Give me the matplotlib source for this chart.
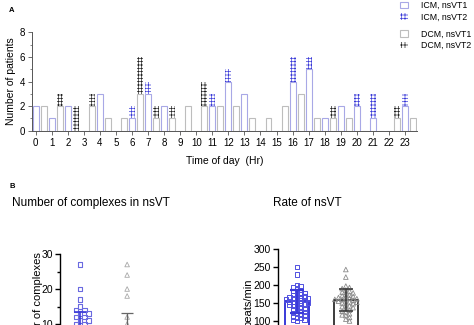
import numpy as np
import matplotlib.pyplot as plt
from matplotlib.patches import Patch

plt.rcParams['font.family'] = ['Liberation Sans', 'DejaVu Sans']
plt.rcParams['hatch.linewidth'] = 0.5

# Panel A: patients per hour (stacked nsVT1 + nsVT2)
hours = list(range(24))
icm_vt1 = [2, 1, 2, 0, 3, 0, 1, 3, 2, 0, 0, 2, 4, 3, 0, 0, 4, 5, 1, 2, 2, 1, 0, 2]
icm_vt2 = [0, 0, 0, 0, 0, 0, 1, 1, 0, 0, 0, 1, 1, 0, 0, 0, 2, 1, 0, 0, 1, 2, 0, 1]
dcm_vt1 = [2, 2, 0, 2, 1, 1, 3, 1, 1, 2, 2, 2, 2, 1, 1, 2, 3, 1, 1, 1, 0, 0, 1, 1]
dcm_vt2 = [0, 1, 2, 1, 0, 0, 3, 1, 1, 0, 2, 0, 0, 0, 0, 0, 0, 0, 1, 0, 0, 0, 1, 0]

# Panel B: number of complexes
groups = ['ICM', 'DCM']
cplx_icm = [27, 20, 17, 15, 14, 14, 13, 13, 12, 12, 11, 11, 10, 10, 9, 9, 8, 8, 7, 7, 6, 6, 5, 5]
cplx_dcm = [27, 24, 20, 18, 12, 10, 9, 8, 7, 6, 6, 5, 5, 4]
cplx_mean = [9.0, 8.5]
cplx_sd = [4.5, 4.6]

# Panel B: rate of nsVT
rate_icm = [250, 230, 200, 197, 193, 190, 186, 183, 180, 178, 175, 172, 170, 168, 166, 165,
            163, 162, 160, 160, 158, 157, 155, 153, 152, 150, 148, 146, 145, 142, 140, 138,
            135, 132, 130, 128, 125, 122, 120, 118, 115, 112, 110, 108, 105, 103, 100]
rate_dcm = [243, 222, 197, 193, 190, 186, 183, 180, 178, 175, 172, 170, 168, 166, 165, 163,
            162, 160, 160, 158, 156, 155, 153, 152, 150, 148, 145, 142, 140, 137, 135, 130,
            127, 125, 120, 117, 115, 110, 105, 100]
rate_mean = [155, 158]
rate_sd = [32, 30]

BLUE = '#3a3ad8'
BLUE_LIGHT = '#a8a8e6'
GRAY_LIGHT = '#bdbdbd'
DARK = '#3c3c3c'


def swarm(vals, dy, dx):
    # simple deterministic beeswarm offsets
    placed = []
    offs = []
    for v in vals:
        k = 0
        while True:
            cands = [0.0] if k == 0 else [k * dx, -k * dx]
            ok = None
            for c in cands:
                if all(abs(c - px) >= dx * 0.9 or abs(v - pv) >= dy for px, pv in placed):
                    ok = c
                    break
            if ok is not None:
                break
            k += 1
        placed.append((ok, v))
        offs.append(ok)
    return np.array(offs)


fig = plt.figure(figsize=(4.74, 3.25), dpi=100)
W, H = 474.0, 325.0


def box(x0, y0, x1, y1):
    return [x0 / W, 1 - y1 / H, (x1 - x0) / W, (y1 - y0) / H]


# ---------------- Panel A ----------------
ax = fig.add_axes(box(31.7, 32.3, 417, 130.7))
x = np.array(hours, dtype=float)
bw = 0.37
ax.bar(x, icm_vt1, bw, color='white', edgecolor=BLUE_LIGHT, linewidth=0.8)
ax.bar(x, icm_vt2, bw, bottom=icm_vt1, color='white', edgecolor=BLUE, hatch='+++++',
       linewidth=0.0)
ax.bar(x + 0.5, dcm_vt1, bw, color='white', edgecolor=GRAY_LIGHT, linewidth=0.8)
ax.bar(x + 0.5, dcm_vt2, bw, bottom=dcm_vt1, color='white', edgecolor='#222222',
       hatch='+++++', linewidth=0.0)
ax.set_xlim(-0.25, 23.75)
ax.set_ylim(0, 8)
ax.set_yticks([0, 2, 4, 6, 8])
ax.set_yticks([1, 3, 5, 7], minor=True)
ax.set_xticks(hours)
ax.set_xticklabels([str(h) for h in hours])
for s in ['top', 'right']:
    ax.spines[s].set_visible(False)
for s in ['left', 'bottom']:
    ax.spines[s].set_color('#555555')
    ax.spines[s].set_linewidth(0.7)
ax.tick_params(labelsize=7, length=3, width=0.6, color='#555555', pad=2)
ax.tick_params(which='minor', length=1.8, width=0.5, color='#555555')
ax.set_ylabel('Number of patients', fontsize=7.5, labelpad=2)
ax.set_xlabel('Time of day  (Hr)', fontsize=7.5, labelpad=6)

h1 = [Patch(facecolor='white', edgecolor=BLUE_LIGHT, linewidth=0.8, label='ICM, nsVT1'),
      Patch(facecolor='white', edgecolor=BLUE, hatch='+++++', linewidth=0, label='ICM, nsVT2')]
h2 = [Patch(facecolor='white', edgecolor=GRAY_LIGHT, linewidth=0.8, label='DCM, nsVT1'),
      Patch(facecolor='white', edgecolor='#222222', hatch='+++++', linewidth=0,
            label='DCM, nsVT2')]
for hs, ytop in [(h1, 1.0), (h2, 29.5)]:
    fig.legend(handles=hs, loc='upper left', bbox_to_anchor=(400 / W, 1 - ytop / H),
               frameon=False, fontsize=6.3, handlelength=0.95, handleheight=0.8,
               handletextpad=1.4, labelspacing=0.3, borderaxespad=0, borderpad=0.0)

fig.text(9 / W, 1 - 11 / H, 'A', fontsize=5.5, fontweight='bold', va='center')
fig.text(9 / W, 1 - 186 / H, 'B', fontsize=5.5, fontweight='bold', va='center')
fig.text(12 / W, 1 - 203 / H, 'Number of complexes in nsVT', fontsize=8.5, va='center')
fig.text(273 / W, 1 - 203 / H, 'Rate of nsVT', fontsize=8.5, va='center')


def style_b(a):
    for s in ['top', 'right']:
        a.spines[s].set_visible(False)
    a.spines['left'].set_linewidth(1.0)
    a.spines['bottom'].set_linewidth(1.0)
    a.tick_params(labelsize=7.5, length=3.5, width=1.0, pad=1.5)
    a.set_xticks([])


# ---------------- Panel B left ----------------
bx = fig.add_axes(box(60, 254, 160, 359))
bx.bar([0, 1], cplx_mean, 0.48, color='white', edgecolor=[BLUE, DARK], linewidth=1.3)
c1 = sorted(cplx_icm, reverse=True)
bx.scatter(0 + swarm(c1, 1.2, 0.09), c1, marker='s', s=11, facecolors='none',
           edgecolors='#6a6ae0', linewidths=0.8, zorder=3)
c2 = sorted(cplx_dcm, reverse=True)
bx.scatter(1 + swarm(c2, 1.2, 0.09), c2, marker='^', s=11, facecolors='none',
           edgecolors='#a8a8a8', linewidths=0.6, zorder=3)
bx.errorbar([0], [cplx_mean[0]], yerr=[cplx_sd[0]], color=BLUE, capsize=4, elinewidth=1.2,
            capthick=1.2, fmt='none', zorder=4)
bx.errorbar([1], [cplx_mean[1]], yerr=[cplx_sd[1]], color='#666666', capsize=4,
            elinewidth=0.9, capthick=0.9, fmt='none', zorder=4)
bx.set_xlim(-0.43, 1.7)
bx.set_ylim(0, 30)
bx.set_yticks([0, 10, 20, 30])
bx.set_yticks([5, 15, 25], minor=True)
style_b(bx)
bx.tick_params(which='minor', length=2.5, width=1.0)
bx.set_ylabel('Number of complexes', fontsize=8, labelpad=-1)

# ---------------- Panel B right ----------------
cx = fig.add_axes(box(278, 249, 385, 357))
cx.bar([0, 1], rate_mean, 0.48, color='white', edgecolor=[BLUE, DARK], linewidth=1.4)
r1 = sorted(rate_icm, reverse=True)
cx.scatter(0 + swarm(r1, 9, 0.075), r1, marker='s', s=11, facecolors='none',
           edgecolors='#5050e0', linewidths=0.7, zorder=3)
r2 = sorted(rate_dcm, reverse=True)
cx.scatter(1 + swarm(r2, 9, 0.075), r2, marker='^', s=11, facecolors='none',
           edgecolors='#8a8a8a', linewidths=0.6, zorder=3)
cx.errorbar([0], [rate_mean[0]], yerr=[rate_sd[0]], color=BLUE, capsize=5, elinewidth=1.6,
            capthick=1.6, fmt='none', zorder=4)
cx.errorbar([1], [rate_mean[1]], yerr=[rate_sd[1]], color=DARK, capsize=5, elinewidth=1.2,
            capthick=1.2, fmt='none', zorder=4)
cx.set_xlim(-0.385, 1.8)
cx.set_ylim(0, 300)
cx.set_yticks([0, 50, 100, 150, 200, 250, 300])
style_b(cx)
cx.set_ylabel('beats/min', fontsize=8, labelpad=0)

fig.savefig('out.png', dpi=100)
